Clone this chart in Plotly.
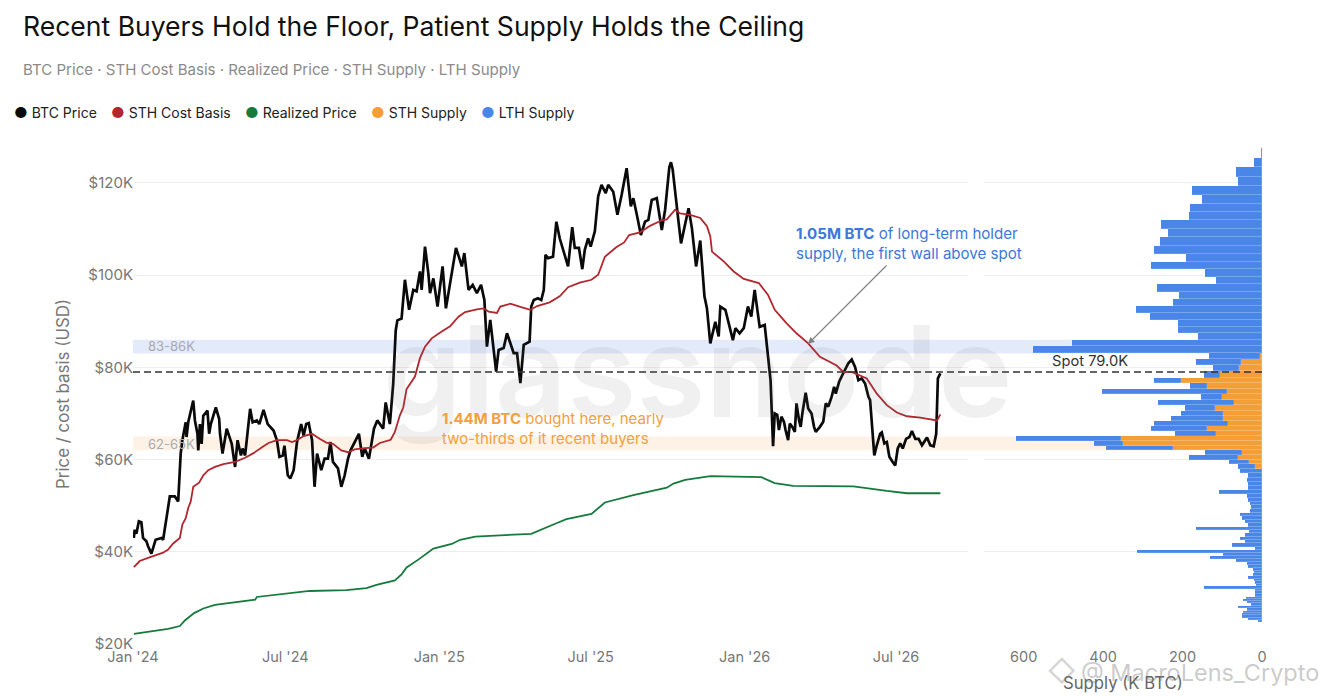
import pandas as pd
import plotly.graph_objects as go

START = pd.Timestamp("2024-01-01")

# days since 2024-01-01 / $K
price_day = [1,2,4,7,10,12,16,18,22,25,27,34,36,40,44,50,54,57,59,63,64,66,72,74,77,78,80,82,84,89,91,93,99,103,104,107,112,118,122,125,129,131,134,137,140,143,148,151,156,161,168,172,175,179,181,185,188,192,196,201,204,207,210,214,217,220,225,229,233,236,239,245,249,253,257,260,265,270,274,277,282,288,292,299,302,307,311,314,316,321,325,330,335,339,343,345,349,353,355,359,364,370,374,381,386,390,393,396,401,406,411,416,420,423,427,434,437,443,447,455,459,463,467,474,476,479,484,488,491,493,496,502,506,510,514,520,525,528,533,537,540,544,547,552,556,560,565,568,574,579,584,590,595,598,603,607,612,616,620,626,632,636,641,643,645,649,652,655,659,664,668,673,678,683,686,690,696,700,702,708,717,720,725,730,735,739,743,749,755,758,762,765,767,770,772,775,778,780,783,785,788,791,793,796,798,800,804,807,811,814,816,821,825,828,831,835,838,840,844,848,851,855,859,863,867,871,875,879,881,884,886,889,893,895,898,901,904,908,911,914,917,920,924,928,931,935,939,943,949,953,957,960,962,965]
price_val = [43.0,44.8,43.9,46.6,46.4,43.0,42.3,41.2,39.6,41.8,42.6,43.0,42.6,47.3,52.0,52.0,50.9,61.3,64.2,68.1,64.9,68.1,72.8,68.5,65.6,62.0,67.7,63.4,69.5,70.6,65.6,67.7,71.3,68.8,65.6,61.3,66.7,63.4,58.4,64.2,60.9,62.4,60.9,66.0,71.0,68.1,68.5,67.7,70.8,67.7,66.3,64.2,60.6,60.9,63.0,56.6,55.9,57.7,63.8,67.7,65.2,67.7,67.9,64.2,54.1,61.3,57.7,60.2,60.2,63.8,59.5,58.1,54.1,56.6,60.2,62.0,63.8,65.6,60.6,62.4,60.2,66.7,68.5,66.7,72.4,67.7,76.4,88.0,90.2,90.6,99.0,92.5,96.8,96.5,100.8,96.8,106.2,100.4,96.1,99.3,93.2,101.9,92.8,100.1,105.9,103.7,101.9,104.8,96.8,97.9,96.1,97.9,94.6,84.5,90.3,79.1,83.8,84.2,87.4,83.1,83.1,76.6,84.9,85.6,93.2,94.6,95.0,94.6,96.8,104.4,103.7,104.0,111.6,108.0,105.5,101.9,110.4,105.9,105.9,101.3,105.5,108.0,106.2,109.5,117.1,119.6,117.8,119.6,118.1,113.1,117.4,123.2,114.9,116.7,112.4,108.7,111.6,112.0,116.3,116.7,109.8,114.2,123.4,124.5,123.0,115.6,111.6,106.9,110.2,114.5,110.2,101.9,107.5,95.4,92.8,85.2,89.9,86.7,93.2,92.5,85.9,88.5,87.4,88.5,93.2,91.0,96.8,88.8,89.2,84.5,77.2,62.9,70.0,69.7,66.4,69.3,68.2,66.4,64.2,67.8,67.1,66.0,72.2,68.6,67.1,70.0,74.5,71.1,70.0,67.1,66.0,67.1,68.2,72.2,71.5,73.6,75.8,74.3,76.9,78.4,79.5,80.9,81.7,80.1,77.2,77.6,76.5,73.6,72.9,64.2,60.9,63.1,65.6,65.9,63.5,63.8,60.6,59.5,58.7,62.4,63.5,62.4,64.5,64.9,66.2,64.5,64.5,63.1,64.8,63.1,62.9,65.6,77.6,78.7]

sth_day = [1,8,18,28,36,42,48,56,59,63,66,69,72,79,84,90,98,108,122,134,144,156,162,172,184,190,196,204,214,223,231,239,249,257,265,277,287,295,308,313,319,323,327,337,343,349,357,369,379,389,397,411,419,425,435,439,451,463,475,483,498,510,520,534,548,556,564,578,587,593,606,618,632,638,648,654,666,678,686,690,692,706,718,730,748,759,767,781,793,807,821,841,849,859,877,889,901,913,925,941,957,961,965]
sth_val = [36.7,38.0,38.7,39.3,39.8,40.5,41.8,43.0,45.9,47.3,49.5,50.9,54.1,55.0,56.6,57.7,58.4,59.0,59.5,60.4,61.4,62.9,63.6,64.2,64.2,63.8,64.2,65.1,65.6,64.5,63.7,63.4,62.0,61.6,62.2,62.5,62.6,63.6,64.3,66.0,69.6,71.3,75.3,78.0,82.0,84.5,86.3,87.8,88.9,91.0,92.0,92.6,92.8,92.1,91.8,93.2,93.8,93.1,92.5,93.3,94.1,95.4,97.4,98.4,99.0,100.1,104.0,106.1,107.1,108.7,109.3,110.7,111.9,112.1,114.2,113.4,113.1,112.4,110.6,108.4,105.1,103.0,100.8,99.2,98.3,95.7,92.5,89.6,87.4,85.2,82.3,80.4,79.0,79.0,77.6,74.3,71.8,70.2,69.4,69.1,68.5,68.5,69.8]

realized_day = [1,24,42,56,62,73,84,98,120,146,148,172,195,211,255,279,291,313,321,327,341,359,381,391,409,476,506,518,548,564,598,638,646,660,678,690,751,767,789,861,901,925,965]
realized_val = [22.2,22.9,23.3,23.9,25.1,26.7,27.7,28.5,29.0,29.6,30.2,30.7,31.2,31.5,31.7,32.1,32.8,33.8,35.1,36.6,38.3,40.7,41.7,42.6,43.3,43.9,46.2,47.1,48.2,50.7,52.3,53.9,54.8,55.6,56.1,56.4,56.2,54.9,54.3,54.2,53.2,52.7,52.7]

# price-bin edges ($K), top to bottom; supply per bin (K BTC)
bin_edges = [127.5,125.4,123.4,121.4,119.4,117.4,115.5,113.7,111.9,110.0,108.2,106.4,104.7,102.9,101.3,99.6,98.0,96.4,94.8,93.3,91.8,90.3,88.8,87.4,85.9,84.6,83.2,81.8,80.5,79.2,77.8,76.6,75.4,74.2,72.9,71.8,70.6,69.5,68.3,67.2,66.1,65.1,64.0,63.0,62.0,61.0,60.0,59.0,58.0,57.0,56.1,55.2,54.2,53.4,52.6,51.7,50.9,50.1,49.3,48.5,47.7,46.9,46.2,45.4,44.7,44.0,43.2,42.5,41.8,41.0,40.3,39.7,39.0,38.4,37.7,37.2,36.5,35.9,35.3,34.8,34.2,33.6,33.0,32.5,32.0,31.4,30.9,30.3,29.8,29.3,28.8,28.3,27.8,27.2,26.7,26.2,25.7,25.2,24.7]
total_supply = [2,21,65,60,176,152,182,185,254,237,256,272,192,280,144,115,264,210,224,317,283,212,212,160,478,577,134,165,123,147,273,182,402,153,262,195,203,228,273,279,218,619,424,394,143,185,83,60,56,35,39,35,35,108,38,35,31,27,31,55,50,44,35,165,33,44,55,44,76,18,314,98,130,66,39,35,23,21,23,35,21,18,14,147,18,18,18,41,48,38,27,60,38,48,50,50,35,10]
sth_supply = [0]*26 + [6,52,57,107,203,139,88,101,71,119,97,97,86,139,115,354,350,224,50,60,33,18] + [0]*50
lth_supply = [t - s for t, s in zip(total_supply, sth_supply)]

tick_dates = ["2024-01-01","2024-07-01","2025-01-01","2025-07-01","2026-01-01","2026-07-01"]
tick_labels = ["Jan '24","Jul '24","Jan '25","Jul '25","Jan '26","Jul '26"]
price_ticks = [20,40,60,80,100,120]
price_labels = ["$20K","$40K","$60K","$80K","$100K","$120K"]
supply_ticks = [600,400,200,0]
spot = 79.0
lth_band = (83, 86)
sth_band = (62, 65)

FONT = "Inter"
W, H = 1324, 696
BLACK, RED, GREEN, ORANGE, BLUE = "#0a0a0a", "#b3262e", "#157a3c", "#f59e35", "#4a86e8"

def to_dates(days):
    return START + pd.to_timedelta(days, unit="D")

centers = [(a + b) / 2 for a, b in zip(bin_edges[:-1], bin_edges[1:])]
widths = [a - b for a, b in zip(bin_edges[:-1], bin_edges[1:])]

def px(x):
    return x / W

def py(y):
    return 1 - y / H

fig = go.Figure()
fig.add_trace(go.Scatter(x=to_dates(realized_day), y=realized_val, name="Realized Price", mode="lines",
                         line=dict(color=GREEN, width=1.8), xaxis="x", yaxis="y"))
fig.add_trace(go.Scatter(x=to_dates(price_day), y=price_val, name="BTC Price", mode="lines",
                         line=dict(color=BLACK, width=2.7), xaxis="x", yaxis="y"))
fig.add_trace(go.Scatter(x=to_dates(sth_day), y=sth_val, name="STH Cost Basis", mode="lines",
                         line=dict(color=RED, width=1.8), xaxis="x", yaxis="y"))
bar_line = dict(color="rgba(255,255,255,0.45)", width=0.3)
fig.add_trace(go.Bar(y=centers, x=sth_supply, width=widths, orientation="h", name="STH Supply",
                     marker=dict(color=ORANGE, line=bar_line), xaxis="x2", yaxis="y2"))
fig.add_trace(go.Bar(y=centers, x=lth_supply, width=widths, orientation="h", name="LTH Supply",
                     marker=dict(color=BLUE, line=bar_line), xaxis="x2", yaxis="y2"))

shapes = [
    dict(type="rect", xref="paper", yref="y", x0=px(133), x1=px(1262), y0=lth_band[0], y1=lth_band[1],
         fillcolor="#e3ebfb", line_width=0, layer="below"),
    dict(type="rect", xref="paper", yref="y", x0=px(133), x1=px(1262), y0=sth_band[0], y1=sth_band[1],
         fillcolor="#fdf2e5", line_width=0, layer="below"),
    dict(type="line", xref="paper", yref="y", x0=px(133), x1=px(1262), y0=spot, y1=spot,
         line=dict(color="#333333", width=1.5, dash="7px,4px"), layer="above"),
]

def note(text, x, y, size, color, anchor="left", weight=None, **kw):
    font = dict(family=FONT, size=size, color=color)
    if weight:
        font["weight"] = weight
    return dict(text=text, xref="paper", yref="paper", x=px(x), y=py(y), xanchor=anchor, yanchor="middle",
                showarrow=False, font=font, align="left", **kw)

legend_items = [("BTC Price", BLACK, 12), ("STH Cost Basis", RED, 109), ("Realized Price", GREEN, 243),
                ("STH Supply", ORANGE, 369), ("LTH Supply", BLUE, 479)]
annotations = [
    note("glassnode", 698, 371, 126, "rgba(110,110,120,0.10)", anchor="center", weight=600),
    note("Recent Buyers Hold the Floor, Patient Supply Holds the Ceiling", 21, 26, 26.55, "#111111"),
    note("BTC Price · STH Cost Basis · Realized Price · STH Supply · LTH Supply", 21, 70, 15.05, "#8b8b8b"),
    note("83-86K", 146, 346, 13, "#a9a9b0"),
    note("62-65K", 146, 444, 13, "#a9a9b0"),
    note("Spot 79.0K", 1050, 361, 14.7, "#333333"),
    note("<b>1.05M BTC</b> of long-term holder<br>supply, the first wall above spot", 794, 243, 15.1, "#3b78dc"),
    note("<b>1.44M BTC</b> bought here, nearly<br>two-thirds of it recent buyers", 440, 428, 15, "#f2a040"),
    note("Supply (K BTC)", 1123, 683, 16.7, "#666666", anchor="center"),
    note("Price / cost basis (USD)", 63, 394, 16.9, "#777777", anchor="center", textangle=-90),
    note("◇", 1045, 671, 28, "rgba(130,130,130,0.35)"),
    note("@ MacroLens_Crypto", 1079, 672, 23.5, "rgba(120,120,120,0.40)"),
    dict(x=px(808), y=py(344), ax=80, ay=-80, xref="paper", yref="paper", axref="pixel", ayref="pixel",
         text="", showarrow=True, arrowhead=2, arrowsize=1.1, arrowwidth=1.2, arrowcolor="#808080"),
]
for name, color, x in legend_items:
    annotations.append(note(f'<span style="color:{color};font-size:15px">●</span> {name}', x, 112, 14, "#222222"))

fig.update_layout(
    width=W, height=H, margin=dict(l=0, r=0, t=0, b=0, autoexpand=False), paper_bgcolor="white", plot_bgcolor="white",
    showlegend=False, barmode="stack", bargap=0, font=dict(family=FONT, color="#777777"),
    shapes=shapes, annotations=annotations,
    xaxis=dict(domain=[px(133), px(968)], range=[START, START + pd.Timedelta(days=998)], tickvals=tick_dates,
               ticktext=tick_labels, showgrid=False, zeroline=False, showline=False, ticks="", ticklabelstandoff=2,
               tickfont=dict(size=14.5, color="#777777"), anchor="y"),
    xaxis2=dict(domain=[px(984), px(1262)], range=[700, 0], tickvals=supply_ticks, showgrid=False, zeroline=False,
                showline=False, ticks="", ticklabelstandoff=2, tickfont=dict(size=14.5, color="#777777"), anchor="y2"),
    yaxis=dict(domain=[py(644), py(147)], range=[20, 127.8], tickvals=price_ticks, ticktext=price_labels,
               gridcolor="#eeeeee", gridwidth=1, zeroline=False, showline=False, ticks="", ticklabelstandoff=-1,
               tickfont=dict(size=15, color="#777777"), anchor="x"),
    yaxis2=dict(domain=[py(644), py(147)], range=[20, 127.8], tickvals=price_ticks, showticklabels=False,
                gridcolor="#eeeeee", gridwidth=1, zeroline=False, showline=False, ticks="", anchor="x2"),
)
fig.write_html("out.html", config={"displayModeBar": False}, post_script="document.body.style.margin='0';")
